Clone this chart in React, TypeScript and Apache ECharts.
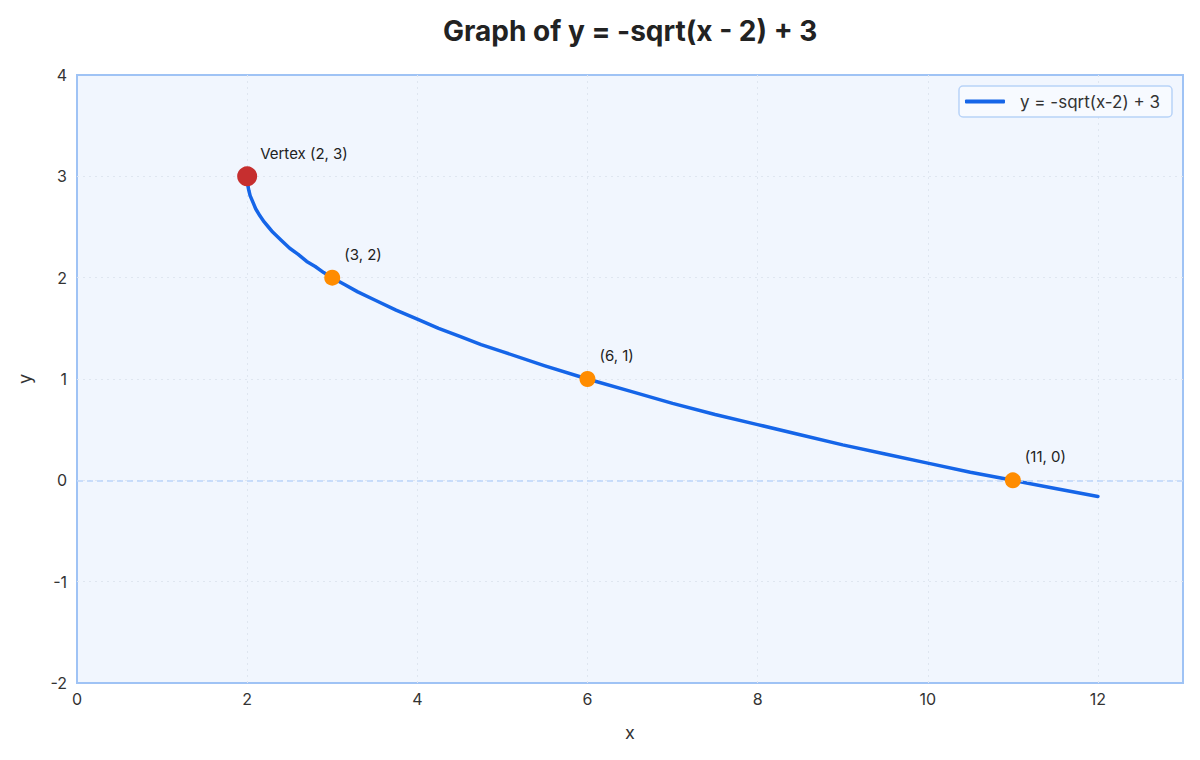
import React, { useEffect, useRef } from "react";
import * as echarts from "echarts";

const curveX = [2, 2.002, 2.005, 2.01, 2.02, 2.035, 2.05, 2.075, 2.1, 2.15, 2.2, 2.25, 2.3, 2.4, 2.5, 2.6, 2.7, 2.8, 2.9, 3, 3.15, 3.3, 3.5, 3.75, 4, 4.25, 4.5, 4.75, 5, 5.5, 6, 6.5, 7, 7.5, 8, 8.5, 9, 9.5, 10, 10.5, 11, 11.5, 12];
const curveY = [3, 2.955, 2.93, 2.9, 2.86, 2.81, 2.78, 2.73, 2.68, 2.61, 2.55, 2.5, 2.45, 2.37, 2.29, 2.23, 2.16, 2.11, 2.05, 2, 1.93, 1.86, 1.78, 1.68, 1.59, 1.5, 1.42, 1.34, 1.27, 1.13, 1, 0.88, 0.76, 0.65, 0.55, 0.45, 0.35, 0.26, 0.17, 0.08, 0, -0.08, -0.16];
const vertexPoint = [2, 3];
const keyX = [3, 6, 11];
const keyY = [2, 1, 0];
const keyLabels = ["(3, 2)", "(6, 1)", "(11, 0)"];
const seriesName = "y = -sqrt(x-2) + 3";
const titleText = "Graph of y = -sqrt(x - 2) + 3";

const FONT = "Inter, 'Noto Sans', sans-serif";

export default function App() {
  const ref = useRef<HTMLDivElement>(null);
  useEffect(() => {
    if (!ref.current) return;
    const chart = echarts.init(ref.current, null, { renderer: "svg" });
    const split = {
      show: true,
      showMinLine: false,
      showMaxLine: false,
      lineStyle: { color: "#dfe6f0", type: [2, 4], width: 1 },
    };
    chart.setOption({
      animation: false,
      backgroundColor: "#ffffff",
      textStyle: { fontFamily: FONT },
      title: {
        text: titleText,
        left: 438,
        top: 12,
        textStyle: { fontSize: 28, fontWeight: "bold", color: "#222", fontFamily: FONT },
      },
      legend: {
        data: [seriesName],
        right: 28,
        top: 86,
        orient: "vertical",
        backgroundColor: "#f7faff",
        borderColor: "#b8d3f8",
        borderWidth: 1.5,
        borderRadius: 4,
        padding: [7, 12, 7, 6],
        itemWidth: 40,
        itemHeight: 4,
        textStyle: { fontSize: 17, color: "#333", fontFamily: FONT, padding: [0, 0, 0, 10] },
        icon: "roundRect",
      },
      grid: {
        left: 77,
        right: 17,
        top: 75,
        bottom: 77,
        show: true,
        backgroundColor: "#f1f6fe",
        borderColor: "#9fc3f5",
        borderWidth: 2,
        containLabel: false,
      },
      xAxis: {
        type: "value",
        min: 0,
        max: 13,
        interval: 2,
        name: "x",
        nameLocation: "middle",
        nameGap: 40,
        nameTextStyle: { fontSize: 18, color: "#333" },
        axisLine: { show: false },
        axisTick: { show: false },
        axisLabel: { fontSize: 16, color: "#333", margin: 8, showMaxLabel: false },
        splitLine: split,
      },
      yAxis: {
        type: "value",
        min: -2,
        max: 4,
        interval: 1,
        name: "y",
        nameLocation: "middle",
        nameGap: 44,
        nameTextStyle: { fontSize: 18, color: "#333" },
        axisLine: { show: false },
        axisTick: { show: false },
        axisLabel: { fontSize: 16, color: "#333", margin: 10 },
        splitLine: split,
      },
      series: [
        {
          name: seriesName,
          type: "line",
          data: curveX.map((x, i) => [x, curveY[i]]),
          smooth: false,
          showSymbol: false,
          symbol: "none",
          lineStyle: { color: "#1565e8", width: 3.5, join: "round", cap: "round" },
          itemStyle: { color: "#1565e8" },
          z: 3,
          markLine: {
            silent: true,
            symbol: "none",
            label: { show: false },
            lineStyle: { color: "#bcd5fa", type: [6, 4], width: 1.5 },
            data: [{ yAxis: 0 }],
          },
        },
        {
          name: "vertex",
          type: "scatter",
          data: [vertexPoint],
          symbolSize: 20,
          itemStyle: { color: "#c62f2f", opacity: 1 },
          z: 5,
          label: {
            show: true,
            formatter: "Vertex (2, 3)",
            position: [23, -20],
            fontSize: 15,
            color: "#222",
            fontFamily: FONT,
          },
        },
        {
          name: "keypoints",
          type: "scatter",
          data: keyX.map((x, i) => [x, keyY[i]]),
          symbolSize: 16,
          itemStyle: { color: "#ff8c00", opacity: 1 },
          z: 5,
          label: {
            show: true,
            formatter: (p: any) => keyLabels[p.dataIndex],
            position: [20, -23],
            fontSize: 15,
            color: "#222",
            fontFamily: FONT,
          },
        },
      ],
    });
    return () => chart.dispose();
  }, []);
  return <div ref={ref} style={{ width: 1200, height: 760, margin: -8 }} />;
}
